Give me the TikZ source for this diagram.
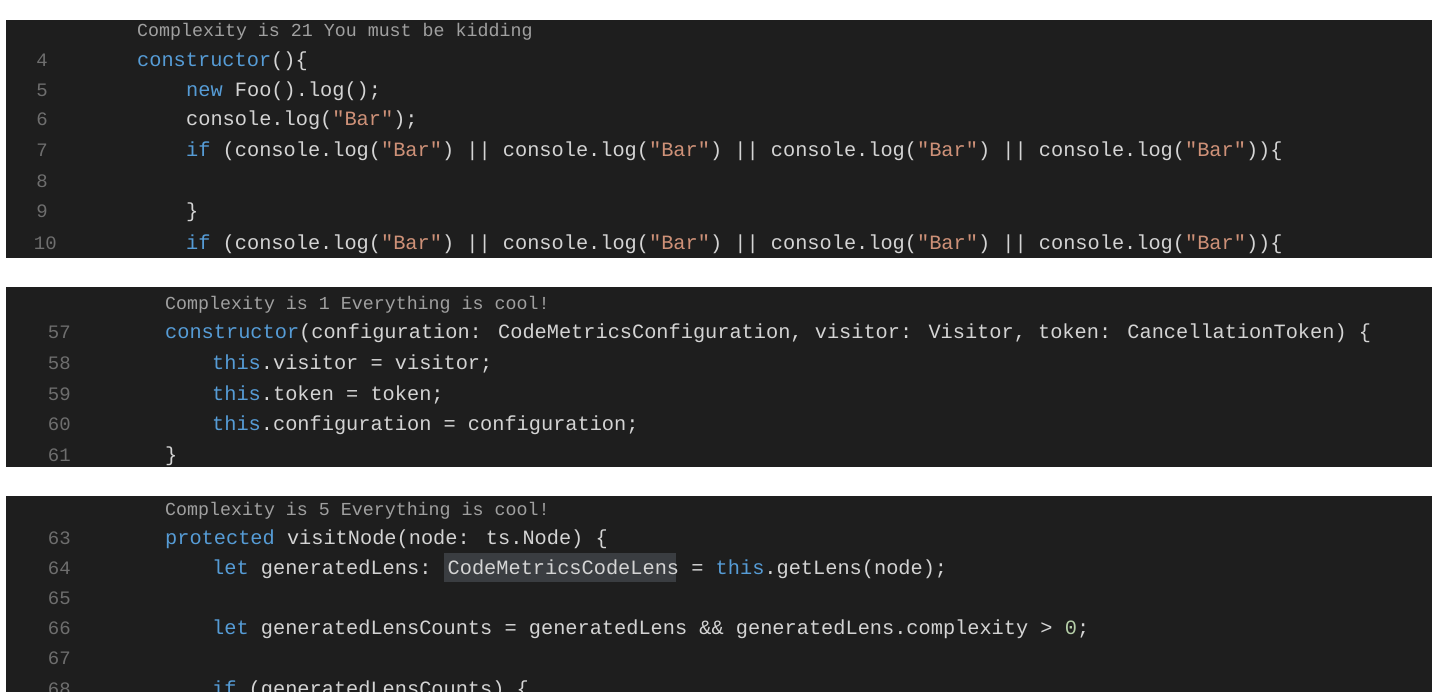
\documentclass[tikz,border=0pt]{standalone}
\usepackage{fontspec}
\newfontfamily\code{Liberation Mono}
\definecolor{bgc}{HTML}{1E1E1E}
\definecolor{txt}{HTML}{D4D4D4}
\definecolor{kwc}{HTML}{569CD6}
\definecolor{stc}{HTML}{CE9178}
\definecolor{nmc}{HTML}{B5CEA8}
\definecolor{cmc}{HTML}{A0A0A0}
\definecolor{lnc}{HTML}{6E6E6E}
\definecolor{hlc}{HTML}{3A3D41}
\newcommand{\kw}[1]{\textcolor{kwc}{#1}}
\newcommand{\st}[1]{\textcolor{stc}{#1}}
\newcommand{\nm}[1]{\textcolor{nmc}{#1}}
\newcommand{\cl}{console.log(\st{"Bar"})}
\tikzset{
 codeln/.style={anchor=base west,inner sep=0pt,text=txt,font=\code\fontsize{20.3}{22}\selectfont},
 lens/.style={anchor=base west,inner sep=0pt,text=cmc,font=\code\fontsize{18.3}{20}\selectfont},
 lnum/.style={anchor=base east,inner sep=0pt,text=lnc,font=\code\fontsize{19}{20}\selectfont},
 panel/.style={fill=bgc,draw=none}
}
\begin{document}
\begin{tikzpicture}[x=1pt,y=-1pt]
\useasboundingbox (0,0) rectangle (1432,692);
\clip (0,0) rectangle (1432,692);
\fill[white] (0,0) rectangle (1432,692);
\fill[panel] (6,20) rectangle (1432,258);
\fill[panel] (6,287) rectangle (1432,467);
\fill[panel] (6,496) rectangle (1432,692);
\fill[hlc] (444,553) rectangle (676,582);
% panel 1
\node[lens] (c1) at (137,37) {Complexity is 21 You must be kidding};
\node[lnum] (n4) at (48,67) {4};
\node[codeln] (l4) at (137,67) {\kw{constructor}()\{};
\node[lnum] (n5) at (48,97) {5};
\node[codeln] (l5) at (186,97) {\kw{new} Foo().log();};
\node[lnum] (n6) at (48,126) {6};
\node[codeln] (l6) at (186,126) {\cl;};
\node[lnum] (n7) at (48,157) {7};
\node[codeln] (l7) at (186,157) {\kw{if} (\cl{} || \cl{} || \cl{} || \cl)\{};
\node[lnum] (n8) at (48,188) {8};
\node[lnum] (n9) at (48,218) {9};
\node[codeln] (l9) at (186,218) {\}};
\node[lnum] (n10) at (57,250) {10};
\node[codeln] (l10) at (186,250) {\kw{if} (\cl{} || \cl{} || \cl{} || \cl)\{};
% panel 2
\node[lens] (c2) at (165,310) {Complexity is 1 Everything is cool!};
\node[lnum] (n57) at (71,339) {57};
\node[codeln] (l57) at (165,339) {\kw{constructor}(configuration: CodeMetricsConfiguration, visitor: Visitor, token: CancellationToken) \{};
\node[lnum] (n58) at (71,370) {58};
\node[codeln] (l58) at (212,370) {\kw{this}.visitor = visitor;};
\node[lnum] (n59) at (71,400) {59};
\node[codeln] (l59) at (212,400) {\kw{this}.token = token;};
\node[lnum] (n60) at (71,430) {60};
\node[codeln] (l60) at (212,430) {\kw{this}.configuration = configuration;};
\node[lnum] (n61) at (71,461) {61};
\node[codeln] (l61) at (165,461) {\}};
% panel 3
\node[lens] (c3) at (165,515) {Complexity is 5 Everything is cool!};
\node[lnum] (n63) at (71,544) {63};
\node[codeln] (l63) at (165,544) {\kw{protected} visitNode(node: ts.Node) \{};
\node[lnum] (n64) at (71,574) {64};
\node[codeln] (l64) at (212,574) {\kw{let} generatedLens: CodeMetricsCodeLens = \kw{this}.getLens(node);};
\node[lnum] (n65) at (71,604) {65};
\node[lnum] (n66) at (71,634) {66};
\node[codeln] (l66) at (212,634) {\kw{let} generatedLensCounts = generatedLens \&\& generatedLens.complexity > \nm{0};};
\node[lnum] (n67) at (71,664) {67};
\node[lnum] (n68) at (71,695) {68};
\node[codeln] (l68) at (212,695) {\kw{if} (generatedLensCounts) \{};
\end{tikzpicture}
\end{document}
